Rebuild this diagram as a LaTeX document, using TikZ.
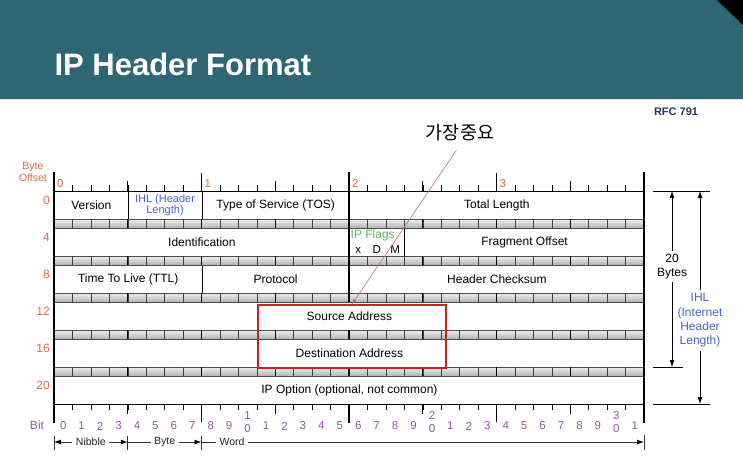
\documentclass[tikz,border=0pt]{standalone}
\usepackage{fontspec}
\setmainfont{Liberation Sans}
\newfontfamily\kofont{Noto Sans CJK KR}
\usetikzlibrary{arrows.meta}
\definecolor{slate}{RGB}{46,102,116}
\definecolor{offset}{RGB}{214,108,70}
\definecolor{bitnum}{RGB}{150,85,165}
\definecolor{ihlblue}{RGB}{70,100,200}
\definecolor{flaggreen}{RGB}{95,180,95}
\definecolor{rfcnavy}{RGB}{31,56,100}
\definecolor{keyred}{RGB}{200,35,35}
\definecolor{noteline}{RGB}{190,110,110}
\newcommand{\bw}{18.4375}
\newcommand{\fs}[1]{\fontsize{#1}{#1}\selectfont}

\begin{document}
\begin{tikzpicture}[x=1pt,y=-1pt,>={Latex[length=7pt,width=5pt,black]},
  field/.style={draw=black,line width=0.8pt,fill=white,inner sep=0pt,anchor=north west,
    minimum height=28pt,align=center,font=\fs{12}},
  bits/.style={minimum width=#1*18.4375pt},
  band/.style={top color=gray!12,bottom color=gray!60,draw=gray!60!black,line width=0.5pt},
  offsetlbl/.style={text=offset,anchor=east,inner sep=1pt,font=\fs{12}},
  bitlbl/.style={text=bitnum,inner sep=0pt,font=\fs{11.5}},
  measure/.style={draw=gray!40!black,line width=0.8pt},
  ]
\useasboundingbox (0,0) rectangle (743,463);
\fill[slate] (0,0) rectangle (743,99);
\draw[gray!25,line width=1pt] (0,99.5) -- (743,99.5);
\fill[black] (717,0) -- (743,0) -- (743,25) -- cycle;
\node[text=white,anchor=west,font=\fontsize{31}{33}\selectfont\bfseries] (title) at (51,64) {IP Header Format};
\node[text=rfcnavy,font=\fs{11}\bfseries] (rfc) at (676,112) {RFC 791};

\node[field,bits=4] (version) at (54,191) {Version};
\node[field,bits=4,text=ihlblue,font=\fontsize{11}{11.5}\selectfont] (ihl) at (54+4*\bw,191) {IHL (Header\\Length)};
\node[field,bits=8] (tos) at (54+8*\bw,191) {Type of Service (TOS)};
\node[field,bits=16] (totlen) at (54+16*\bw,191) {Total Length};
\node[field,bits=16] (ident) at (54,228) {Identification};
\node[field,bits=3] (flags) at (54+16*\bw,228) {};
\node[field,bits=13] (fragoff) at (54+19*\bw,228) {Fragment Offset};
\node[field,bits=8] (ttl) at (54,265) {Time To Live (TTL)};
\node[field,bits=8] (proto) at (54+8*\bw,265) {Protocol};
\node[field,bits=16] (checksum) at (54+16*\bw,265) {Header Checksum};
\node[field,bits=32] (srcaddr) at (54,302) {Source Address};
\node[field,bits=32] (dstaddr) at (54,339) {Destination Address};
\node[field,bits=32] (ipopt) at (54,376) {IP Option (optional, not common)};

\node[text=flaggreen,anchor=north west,inner sep=1.5pt,font=\fs{12}] (flagname) at (flags.north west) {IP Flags};
\foreach \b/\f in {16/x,17/D,18/M}
  \node[inner sep=0pt,font=\fs{11.5}] (flag\f) at (54+\b*\bw+0.5*\bw,250) {\f};

\foreach \r in {0,...,4}{
  \path[band] (54,219+37*\r) rectangle (644,228+37*\r);
  \foreach \b in {1,...,31}
    \draw[gray!50!black,line width=0.4pt] (54+\b*\bw,219+37*\r) -- ++(0,9);
  \foreach \b in {4,8,12,20,24,28}
    \draw[black,line width=1pt] (54+\b*\bw,219+37*\r) -- ++(0,9);
  \draw[black,line width=2pt] (54+16*\bw,219+37*\r) -- ++(0,9);
}

\draw[line width=0.8pt] (54,191) -- (644,191);
\foreach \b in {1,...,31}
  \draw[line width=0.5pt] (54+\b*\bw,191) -- ++(0,-6);
\foreach \b in {4,12,20,28}
  \draw[line width=0.8pt] (54+\b*\bw,191) -- ++(0,-10);
\foreach \b in {8,24}
  \draw[line width=0.8pt] (54+\b*\bw,191) -- ++(0,-18);
\draw[line width=0.5pt] (54,404) -- (644,404);
\foreach \b in {1,...,31}
  \draw[line width=0.5pt] (54+\b*\bw,404) -- ++(0,6);
\foreach \b in {4,12,20,28}
  \draw[line width=0.8pt] (54+\b*\bw,404) -- ++(0,10);
\foreach \b in {8,24}
  \draw[line width=0.8pt] (54+\b*\bw,404) -- ++(0,18);
\draw[line width=2pt] (54+16*\bw,172) -- (54+16*\bw,302);
\draw[line width=2pt] (54+16*\bw,404) -- (54+16*\bw,423);
\draw[line width=2.5pt] (54,172) -- (54,423);
\draw[line width=2.5pt] (644,172) -- (644,423);

\foreach \n in {0,...,3}
  \node[text=offset,anchor=south west,inner sep=1pt,font=\fs{11.5}] (byte\n) at (54+8*\n*\bw+2,189) {\n};
\node[text=offset,align=center,font=\fontsize{10.5}{11.5}\selectfont] (byteoff) at (33,172) {Byte\\Offset};
\foreach \r/\v in {0/0,1/4,2/8,3/12,4/16,5/20}
  \node[offsetlbl] (off\v) at (51,200+37*\r) {\v};

\node[text=bitnum,font=\fs{12}] (bitword) at (37,425) {Bit};
\foreach \b in {0,...,9,11,12,...,19,21,22,...,29,31}{
  \pgfmathtruncatemacro{\d}{mod(\b,10)}
  \node[bitlbl] (bit\b) at (54+\b*\bw+0.5*\bw,426) {\d};
}
\foreach \t in {1,2,3}
  \node[bitlbl,align=center,font=\fontsize{11.5}{13}\selectfont] (bit\t0) at (54+10*\t*\bw+0.5*\bw,422.5) {\t\\0};

\coordinate (m0) at (54,442);
\coordinate (m4) at (54+4*\bw,442);
\coordinate (m8) at (54+8*\bw,442);
\coordinate (m32) at (644,442);
\foreach \x in {54,54+4*\bw,54+8*\bw}
  \draw[measure] (\x,436) -- (\x,450);
\draw[measure] (644,435) -- (644,450);
\node[text=gray!30!black,font=\fs{10.5}] (nibble) at (54+2*\bw,442) {Nibble};
\node[text=gray!30!black,font=\fs{10.5}] (byte) at (54+6*\bw,442) {Byte};
\node[text=gray!30!black,anchor=west,font=\fs{10.5}] (word) at (216,442) {Word};
\draw[measure,->] (nibble) -- (m0);
\draw[measure,->] (nibble) -- (m4);
\draw[measure] (byte) -- (m4);
\draw[measure,->] (byte) -- (m8);
\draw[measure] (word) -- (m8);
\draw[measure,->] (word) -- (m32);

\draw[line width=0.8pt] (653,191) -- (710,191);
\draw[line width=0.8pt] (653,367) -- (683,367);
\draw[line width=0.8pt] (653,404) -- (710,404);
\coordinate (bt) at (672,191);
\coordinate (bb) at (672,367);
\coordinate (it) at (700,191);
\coordinate (ib) at (700,404);
\node[align=center,font=\fontsize{12}{13.5}\selectfont] (bytes20) at (672,266.5) {20\\Bytes};
\node[align=center,text=ihlblue,font=\fontsize{12}{14.3}\selectfont] (ihlnote) at (700,320.5) {IHL\\(Internet\\Header\\Length)};
\draw[->,line width=0.8pt] (bytes20) -- (bt);
\draw[->,line width=0.8pt] (bytes20) -- (bb);
\draw[->,line width=0.8pt] (ihlnote) -- (it);
\draw[->,line width=0.8pt] (ihlnote) -- (ib);

\node[draw=keyred,line width=1.6pt,minimum width=188pt,minimum height=63pt,inner sep=0pt] (keybox) at (352,336.5) {};
\node[font=\kofont\fontsize{18.5}{20}\selectfont] (note) at (460,133) {가장중요};
\draw[noteline,line width=0.6pt,-{Latex[length=5pt,width=3.5pt]},shorten <=6pt] (note.south) -- (keybox.north);
\end{tikzpicture}
\end{document}
